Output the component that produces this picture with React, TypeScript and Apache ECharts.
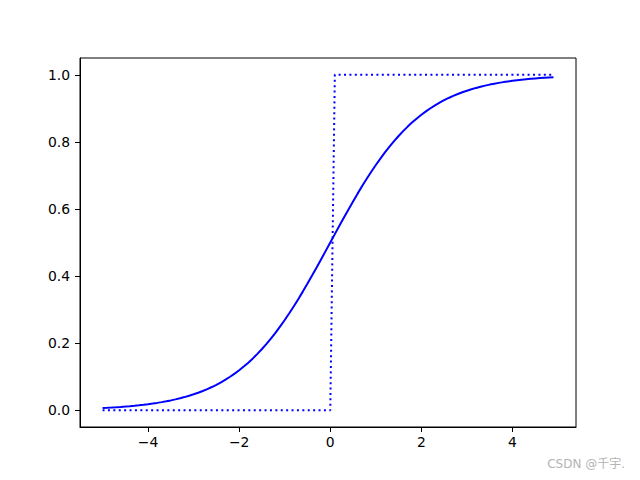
import React, { useEffect, useRef } from "react";
import * as echarts from "echarts";

const xValues = [
  -5.0, -4.9, -4.8, -4.7, -4.6, -4.5, -4.4, -4.3, -4.2, -4.1,
  -4.0, -3.9, -3.8, -3.7, -3.6, -3.5, -3.4, -3.3, -3.2, -3.1,
  -3.0, -2.9, -2.8, -2.7, -2.6, -2.5, -2.4, -2.3, -2.2, -2.1,
  -2.0, -1.9, -1.8, -1.7, -1.6, -1.5, -1.4, -1.3, -1.2, -1.1,
  -1.0, -0.9, -0.8, -0.7, -0.6, -0.5, -0.4, -0.3, -0.2, -0.1,
  0.0, 0.1, 0.2, 0.3, 0.4, 0.5, 0.6, 0.7, 0.8, 0.9,
  1.0, 1.1, 1.2, 1.3, 1.4, 1.5, 1.6, 1.7, 1.8, 1.9,
  2.0, 2.1, 2.2, 2.3, 2.4, 2.5, 2.6, 2.7, 2.8, 2.9,
  3.0, 3.1, 3.2, 3.3, 3.4, 3.5, 3.6, 3.7, 3.8, 3.9,
  4.0, 4.1, 4.2, 4.3, 4.4, 4.5, 4.6, 4.7, 4.8, 4.9,
];

const sigmoidValues = [
  0.00669, 0.00739, 0.00816, 0.00901, 0.00995, 0.01099, 0.01213, 0.01339, 0.01477, 0.0163,
  0.01799, 0.01984, 0.02188, 0.02413, 0.0266, 0.02931, 0.0323, 0.03557, 0.03917, 0.04311,
  0.04743, 0.05215, 0.05732, 0.06294, 0.06914, 0.07586, 0.08317, 0.09112, 0.09975, 0.1091,
  0.1192, 0.13011, 0.14185, 0.15447, 0.16798, 0.18243, 0.19782, 0.21416, 0.23148, 0.24974,
  0.26894, 0.28905, 0.31003, 0.33181, 0.35434, 0.37754, 0.40131, 0.42556, 0.45017, 0.47502,
  0.5, 0.52498, 0.54983, 0.57444, 0.59869, 0.62246, 0.64566, 0.66819, 0.68997, 0.71095,
  0.73106, 0.75026, 0.76852, 0.78584, 0.80218, 0.81757, 0.83202, 0.84553, 0.85815, 0.86989,
  0.8808, 0.8909, 0.90025, 0.90888, 0.91683, 0.92414, 0.93086, 0.93706, 0.94268, 0.94785,
  0.95257, 0.95689, 0.96083, 0.96443, 0.9677, 0.97069, 0.9734, 0.97587, 0.97812, 0.98016,
  0.98201, 0.9837, 0.98523, 0.98661, 0.98787, 0.98901, 0.99005, 0.99099, 0.99184, 0.99261,
];

const stepX = [-5.0, 0.0, 0.1, 4.9];
const stepY = [0, 0, 1, 1];

const xTicks = [-4, -2, 0, 2, 4];
const yTicks = [0, 0.2, 0.4, 0.6, 0.8, 1.0];

const watermark = "CSDN @千宇.";

export default function App() {
  const ref = useRef<HTMLDivElement>(null);
  useEffect(() => {
    if (!ref.current) return;
    const chart = echarts.init(ref.current, null, { renderer: "svg" });
    const font = "DejaVu Sans";
    chart.setOption({
      animation: false,
      backgroundColor: "#ffffff",
      grid: {
        left: 80,
        right: 64,
        top: 58,
        bottom: 53,
        show: true,
        borderColor: "#000000",
        borderWidth: 1,
        backgroundColor: "transparent",
      },
      xAxis: {
        type: "value",
        min: -5.495,
        max: 5.395,
        splitLine: { show: false },
        axisLine: { show: true, onZero: false, lineStyle: { color: "#000", width: 1 } },
        axisTick: {
          show: true,
          length: 5,
          inside: false,
          customValues: xTicks,
          lineStyle: { color: "#000", width: 1 },
        },
        axisLabel: {
          show: true,
          customValues: xTicks,
          margin: 8,
          color: "#000",
          fontFamily: font,
          fontSize: 13.9,
          formatter: (v: number) => String(v).replace("-", "\u2212"),
        },
      },
      yAxis: {
        type: "value",
        min: -0.05,
        max: 1.05,
        splitLine: { show: false },
        axisLine: { show: true, onZero: false, lineStyle: { color: "#000", width: 1 } },
        axisTick: {
          show: true,
          length: 5,
          inside: false,
          customValues: yTicks,
          lineStyle: { color: "#000", width: 1 },
        },
        axisLabel: {
          show: true,
          customValues: yTicks,
          margin: 10,
          color: "#000",
          fontFamily: font,
          fontSize: 13.9,
          formatter: (v: number) => v.toFixed(1),
        },
      },
      series: [
        {
          type: "line",
          data: xValues.map((x, i) => [x, sigmoidValues[i]]),
          showSymbol: false,
          symbol: "none",
          lineStyle: { color: "#0000ff", width: 2 },
          z: 3,
        },
        {
          type: "line",
          data: stepX.map((x, i) => [x, stepY[i]]),
          showSymbol: false,
          symbol: "none",
          lineStyle: { color: "#0000ff", width: 2, type: [2, 3.4] },
          z: 2,
        },
      ],
      graphic: [
        {
          type: "text",
          right: 15,
          top: 458,
          style: {
            text: watermark,
            fill: "#b4b4b4",
            fontSize: 12,
            fontFamily: "DejaVu Sans, Noto Sans CJK SC",
          },
        },
      ],
    });
    return () => chart.dispose();
  }, []);
  return <div ref={ref} style={{ width: 640, height: 480, position: "absolute", left: 0, top: 0 }} />;
}
